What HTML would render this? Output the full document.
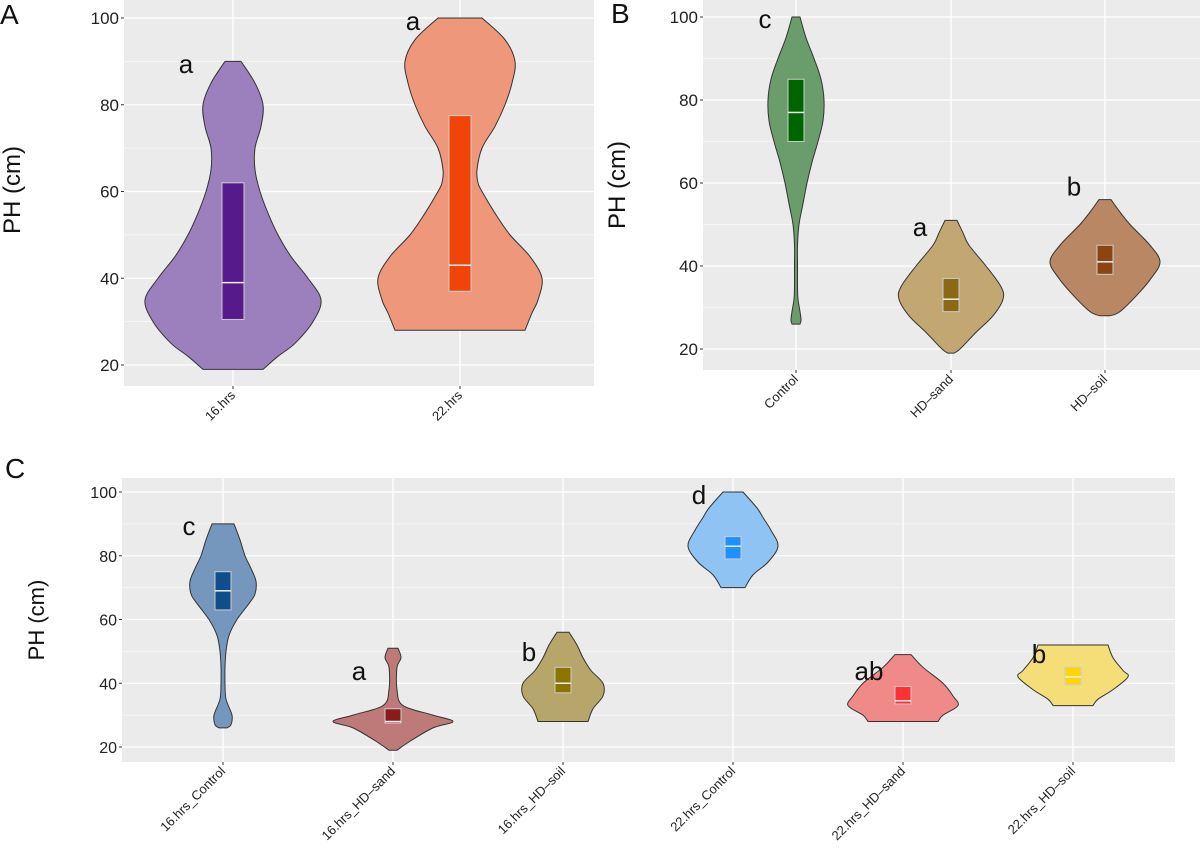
<!DOCTYPE html>
<html><head><meta charset="utf-8"><style>
html,body{margin:0;padding:0;background:#fff;}
svg{display:block;font-family:"Liberation Sans",Arial,sans-serif;}
</style></head><body>
<svg id="chart" width="1200" height="861" viewBox="0 0 1200 861"></svg>
<script>
// ---- Panel A data ----
const catsA = ["16.hrs","22.hrs"];
const letA = ["a","a"];
const letYA = [87.3,97.2];
const lvA = [[19,22,25,30,35,40,45,50,55,60,65,70,75,80,85,90],[28,32,35,40,45,50,55,60,62,65,70,75,80,85,90,95,100]];
const wdA = [[30,45,62,80,88,75,58,45,35,27,22,22,28,30,22,8],[65,72,78,82,70,50,35,22,18,17,22,35,45,52,55,45,22]];
const boxA = [[30.5,39,62],[37,43,77.5]];
// ---- Panel B data ----
const catsB = ["Control","HD\u2013sand","HD\u2013soil"];
const letB = ["c","a","b"];
const letYB = [97.3,47.2,57];
const lvB = [[26,27,29,32,35,40,45,50,55,60,65,70,75,80,85,90,95,100],[19,20,24,28,32,35,40,45,48,51],[28,29,33,37,41,45,50,53,56]];
const wdB = [[4,5,4,2,1.5,1.5,1.5,3,7,11,16,22,27,28,25,18,10,4],[3,9,25,42,52,50,35,18,12,6],[5,15,32,46,55,45,25,15,6]];
const boxB = [[70,77,85],[29,32,37],[38,41,45]];
// ---- Panel C data ----
const catsC = ["16.hrs_Control","16.hrs_HD\u2013sand","16.hrs_HD\u2013soil","22.hrs_Control","22.hrs_HD\u2013sand","22.hrs_HD\u2013soil"];
const letC = ["c","a","b","d","ab","b"];
const letYC = [86.5,41,47,96.2,41,46.3];
const lvC = [[26,27,30,35,40,45,50,55,60,65,68,72,76,80,85,90],[19,22,26,28,30,33,38,45,48,51],[28,32,36,40,44,48,52,56],[70,74,78,83,88,92,95,100],[28,30,33,36,40,45,49],[33,35,38,42,44,48,52]];
const wdC = [[4,8,9,3,2,2,3,6,14,26,32,33,28,22,17,11],[4,18,40,60,40,10,4,4,8,5],[25,30,40,40,28,20,14,6],[12,20,35,45,38,30,24,10],[35,40,55,50,40,20,8],[20,25,40,55,50,40,35]];
const boxC = [[63,69,75],[27.5,28,32],[37,40,45],[79,83,86],[33.5,34.5,39],[39.5,42,45]];

const NS="http://www.w3.org/2000/svg";
const svg=document.getElementById('chart');
function mk(tag,attrs,parent){const e=document.createElementNS(NS,tag);for(const k in attrs)e.setAttribute(k,attrs[k]);(parent||svg).appendChild(e);return e;}
function spline(pts){ // catmull-rom through pts
  let d='M'+pts[0][0]+','+pts[0][1];
  for(let i=0;i<pts.length-1;i++){
    const p0=pts[Math.max(i-1,0)],p1=pts[i],p2=pts[i+1],p3=pts[Math.min(i+2,pts.length-1)];
    const c1=[p1[0]+(p2[0]-p0[0])/6,p1[1]+(p2[1]-p0[1])/6];
    const c2=[p2[0]-(p3[0]-p1[0])/6,p2[1]-(p3[1]-p1[1])/6];
    d+=`C${c1[0]},${c1[1]} ${c2[0]},${c2[1]} ${p2[0]},${p2[1]}`;
  }
  return d;
}

function panel(p){
  const g=mk('g',{});
  
  
  const y=v=>p.y20+(v-20)*(p.y100-p.y20)/80;
  const bg=mk('rect',{x:p.x0,y:p.t,width:p.x1-p.x0,height:p.b-p.t,fill:'#ebebeb'},g);
  
  
  for(let v=10;v<=110;v+=10){const yy=y(v);if(yy<p.t||yy>p.b)continue;
    const major=v%20===0;
    mk('line',{x1:p.x0,x2:p.x1,y1:yy,y2:yy,stroke:'#fff','stroke-width':major?1.3:0.6},g);
    if(major){const t=mk('text',{x:p.x0-5,y:yy+6,'text-anchor':'end','font-size':p.tick,fill:'#222'},g);t.textContent=v;
      
      mk('line',{x1:p.x0-3,x2:p.x0,y1:yy,y2:yy,stroke:'#333'},g);}
  }
  p.cats.forEach((c,i)=>{const cx=p.cx[i];
    mk('line',{x1:cx,x2:cx,y1:p.t,y2:p.b,stroke:'#fff','stroke-width':1.3},g);
    mk('line',{x1:cx,x2:cx,y1:p.b,y2:p.b+3,stroke:'#333'},g);
    const t=mk('text',{x:cx+3,y:p.b+10,'text-anchor':'end','font-size':13,fill:'#222',transform:`rotate(-45 ${cx+3} ${p.b+10})`},g);t.textContent=c;
    
  });
  p.cats.forEach((c,i)=>{const cx=p.cx[i];const lv=p.lv[i],wd=p.wd[i];
    const right=lv.map((v,k)=>[cx+wd[k]*p.ws,y(v)]);
    const left=lv.map((v,k)=>[cx-wd[k]*p.ws,y(v)]).reverse();
    let d=spline(right);
    const sl=spline(left);
    d+=' L'+sl.slice(1)+'Z';
    const vp=mk('path',{d:d,fill:p.fill[i],stroke:'#333','stroke-width':1},g);
    
    const bx=p.box[i];
    const r=mk('rect',{x:cx-p.bw/2,y:y(bx[2]),width:p.bw,height:y(bx[0])-y(bx[2]),fill:p.bfill[i],stroke:'#ccc','stroke-width':1},g);
    
    mk('line',{x1:cx-p.bw/2,x2:cx+p.bw/2,y1:y(bx[1]),y2:y(bx[1]),stroke:'#eee','stroke-width':1.5},g);
    const lt=mk('text',{x:cx+p.lo,y:y(p.letY[i]),'text-anchor':'middle','font-size':26,fill:'#111'},g);lt.textContent=p.let[i];
    
  });
  const yt=mk('text',{x:p.yt[0],y:p.yt[1],'text-anchor':'middle','font-size':p.ytsz,fill:'#111',transform:`rotate(-90 ${p.yt[0]} ${p.yt[1]})`},g);yt.textContent='PH (cm)';
  
  const pl=mk('text',{x:p.pl[0],y:p.pl[1],'font-size':28,fill:'#111'},g);pl.textContent=p.label;
  
}
panel({name:'panel-a',label:'A',pl:[0,24],x0:124,x1:594,t:0,b:386,y20:365,y100:18,tick:17,cats:catsA,cx:[233,460],lv:lvA,wd:wdA,box:boxA,ws:1,bw:22,let:letA,letY:letYA,lo:-47,
  fill:['#9b80bd','#ee977a'],bfill:['#561a8c','#f04408'],yt:[20,190],ytsz:24});
panel({name:'panel-b',label:'B',pl:[611,23],x0:703,x1:1200,t:0,b:370,y20:349,y100:17,tick:17,cats:catsB,cx:[796,951,1105],lv:lvB,wd:wdB,box:boxB,ws:1,bw:16,let:letB,letY:letYB,lo:-31,
  fill:['#6b9c6b','#c2a772','#b98763'],bfill:['#006400','#8b6914','#8b4513'],yt:[625,185],ytsz:24});
panel({name:'panel-c',label:'C',pl:[5,478],x0:122,x1:1175,t:478,b:762,y20:747,y100:492,tick:16,cats:catsC,cx:[223,393,563,733,903,1073],lv:lvC,wd:wdC,box:boxC,ws:1,bw:16,let:letC,letY:letYC,lo:-34,
  fill:['#7597bd','#bd7a78','#b7a66a','#8ec3f3','#f08a88','#f5de78'],bfill:['#104e8b','#8b1a1a','#8b7500','#1e90ff','#ff3030','#ffd700'],yt:[44,620],ytsz:22});
</script>
</body></html>
